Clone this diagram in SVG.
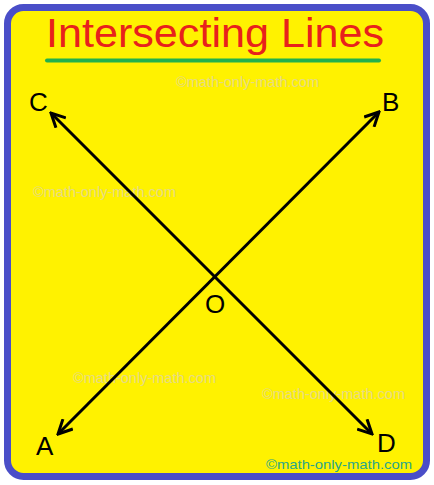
<svg xmlns="http://www.w3.org/2000/svg" width="434" height="485" viewBox="0 0 434 485">
<style>
.lbl{font-family:"Liberation Sans",Arial,sans-serif;font-size:26px;fill:#000}
.wm{font-family:"Liberation Sans",Arial,sans-serif;font-size:15px;fill:#e6da84}
.ln{stroke:#000;stroke-width:3;fill:none;marker-end:url(#ah);marker-start:url(#ahs)}
</style>
<defs>
<marker id="ah" viewBox="-16 -8 18 16" refX="0" refY="0" markerWidth="18" markerHeight="16" markerUnits="userSpaceOnUse" orient="auto">
<polyline points="-14,-7 0,0 -14,7" fill="none" stroke="#000" stroke-width="3"/>
</marker>
<marker id="ahs" viewBox="-16 -8 18 16" refX="0" refY="0" markerWidth="18" markerHeight="16" markerUnits="userSpaceOnUse" orient="auto-start-reverse">
<polyline points="-14,-7 0,0 -14,7" fill="none" stroke="#000" stroke-width="3"/>
</marker>
</defs>
<rect x="7.5" y="7.5" width="419" height="469" rx="16" fill="#fff200" stroke="#4a4ec8" stroke-width="7"/>
<g id="title">
<text x="46" y="47" font-family="'Liberation Sans',Arial,sans-serif" font-size="41" fill="#e8211c" textLength="338" lengthAdjust="spacingAndGlyphs">Intersecting Lines</text>
<line x1="47" y1="60.5" x2="379" y2="60.5" stroke="#22b14c" stroke-width="4" stroke-linecap="round"/>
</g>
<g id="watermarks">
<text class="wm" x="176" y="87" textLength="143" lengthAdjust="spacingAndGlyphs">©math-only-math.com</text>
<text class="wm" x="33" y="197" textLength="143" lengthAdjust="spacingAndGlyphs">©math-only-math.com</text>
<text class="wm" x="73" y="383" textLength="143" lengthAdjust="spacingAndGlyphs">©math-only-math.com</text>
<text class="wm" x="262" y="399" textLength="143" lengthAdjust="spacingAndGlyphs">©math-only-math.com</text>
</g>
<g id="connectors">
<line class="ln" x1="58" y1="434" x2="379" y2="112"/>
<line class="ln" x1="372" y1="434" x2="51" y2="113"/>
</g>
<g id="C"><text class="lbl" x="29" y="111">C</text></g>
<g id="B"><text class="lbl" x="382" y="111">B</text></g>
<g id="O"><text class="lbl" x="205" y="313">O</text></g>
<g id="A"><text class="lbl" x="36" y="455">A</text></g>
<g id="D"><text class="lbl" x="377" y="452">D</text></g>
<text x="266" y="468.5" font-family="'Liberation Sans',Arial,sans-serif" font-size="13.5" fill="#2aa58a" textLength="146" lengthAdjust="spacingAndGlyphs">©math-only-math.com</text>
</svg>
